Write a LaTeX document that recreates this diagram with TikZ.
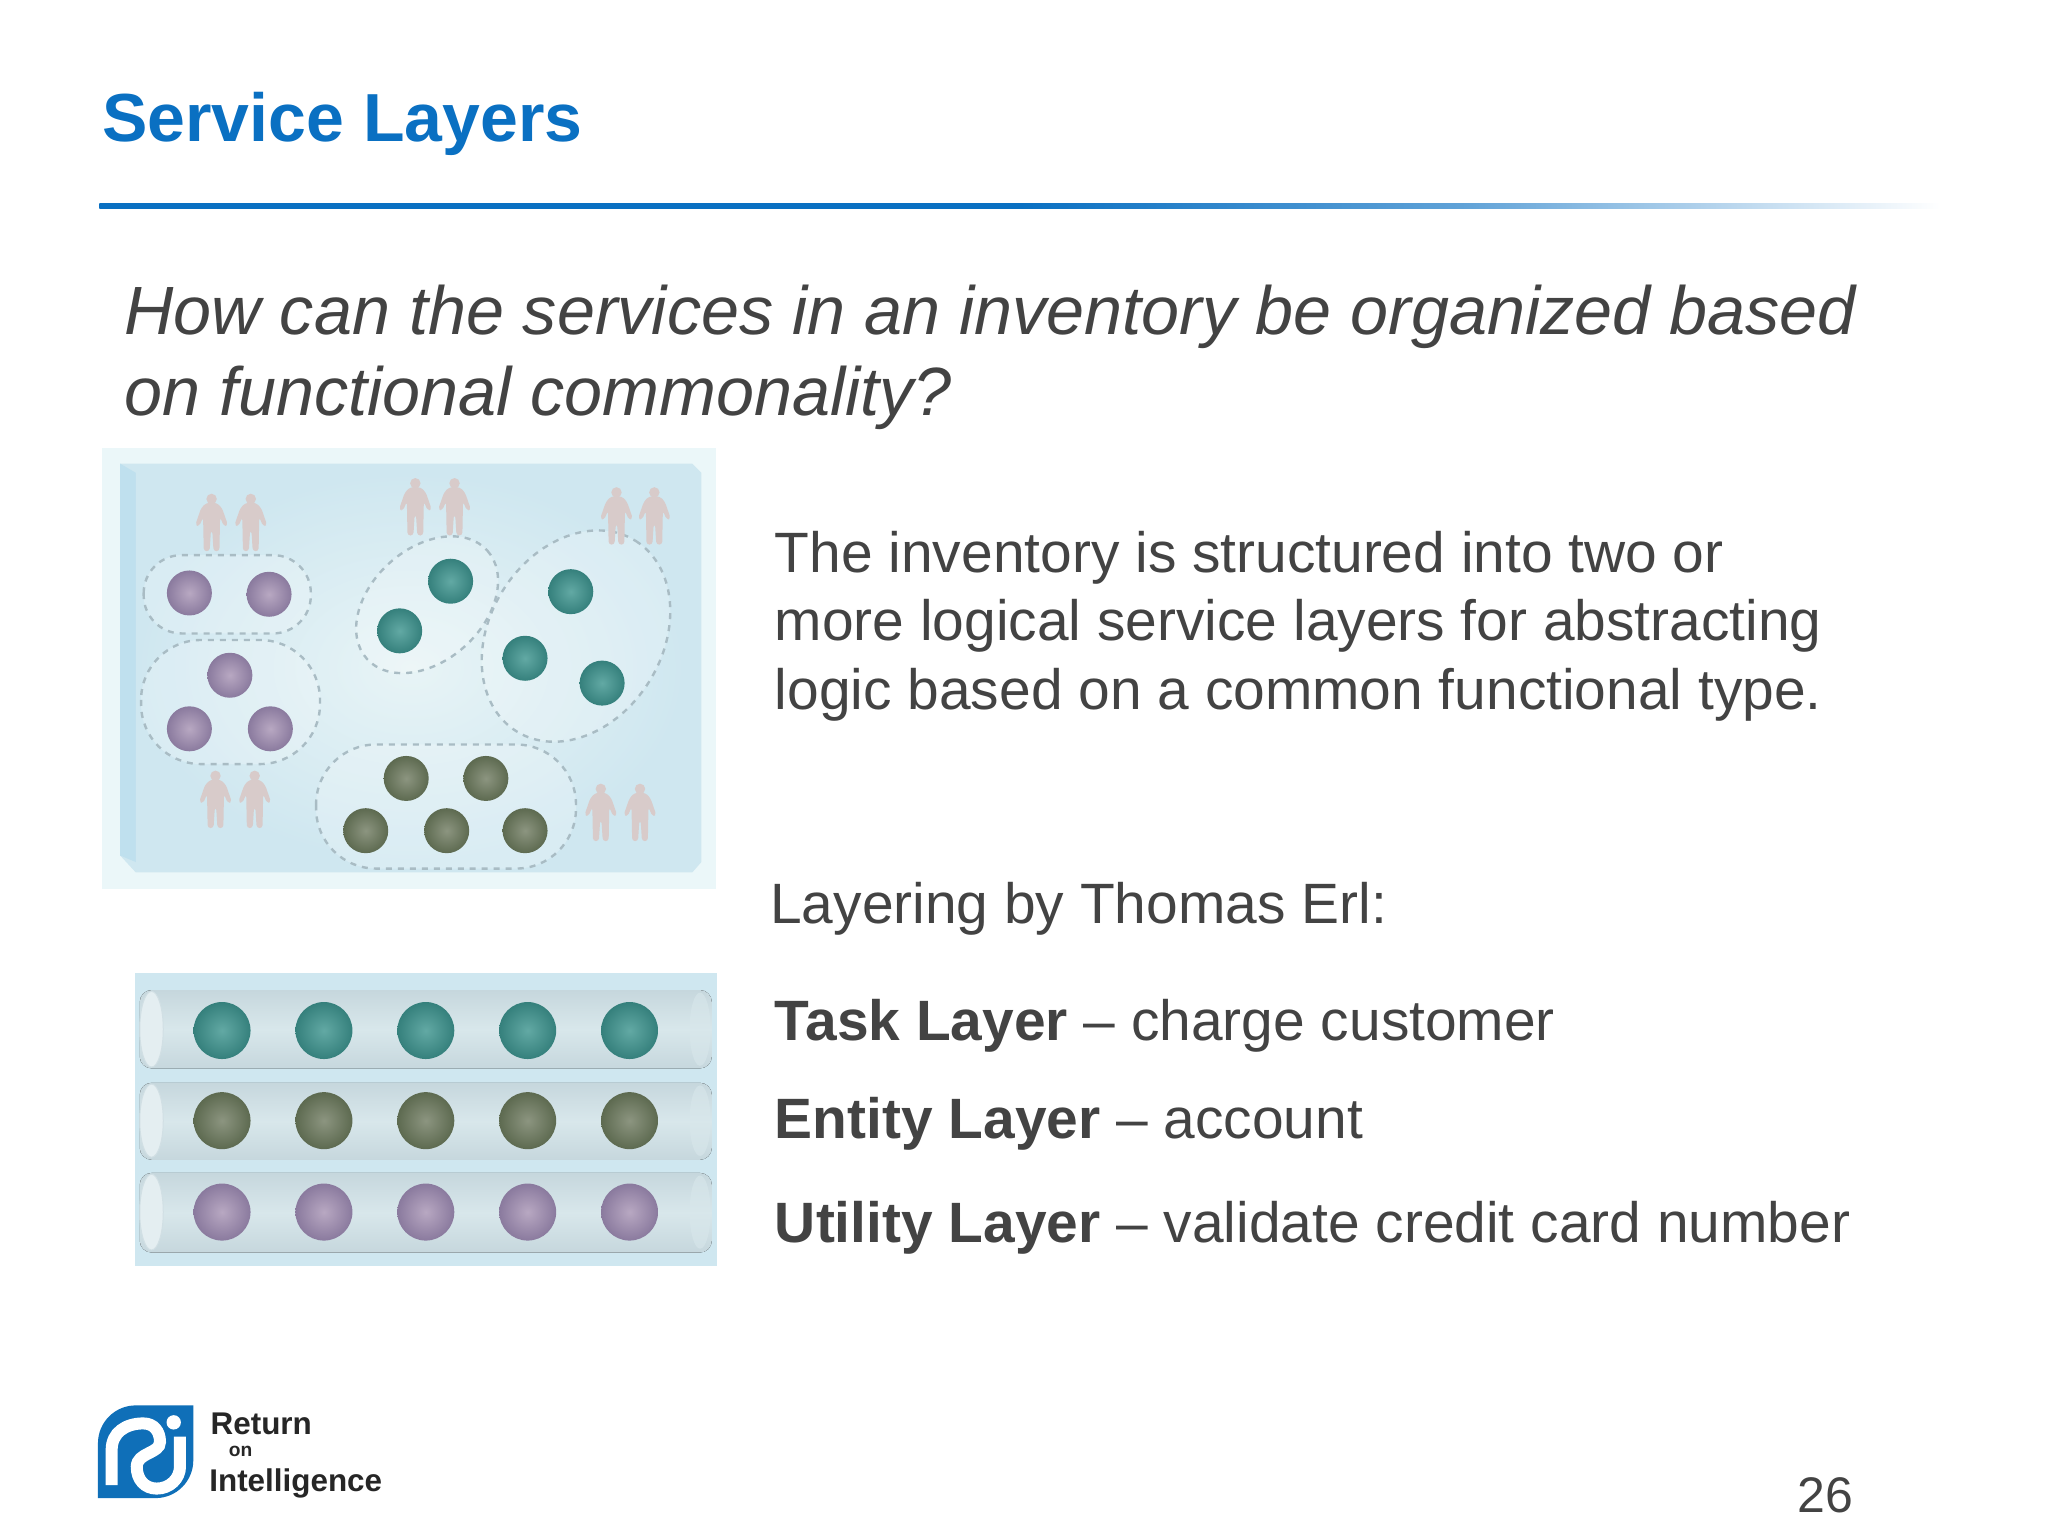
\documentclass[tikz,border=0pt]{standalone}
\usepackage{fontspec}
\setmainfont{Liberation Sans}
\usepackage{tikz}

\definecolor{titleblue}{HTML}{0A70C2}
\definecolor{bodygrey}{HTML}{434343}
\definecolor{logoblue}{HTML}{0F6FB8}
\definecolor{panelpale}{HTML}{EBF7F9}
\definecolor{panelblue}{HTML}{CFE7F0}
\definecolor{panelstrip}{HTML}{BFE0EE}
\definecolor{panelmid}{HTML}{E8F4F6}
\definecolor{dashgrey}{HTML}{A9BCC4}
\definecolor{tubegrey}{HTML}{C6D7DD}
\definecolor{tubelight}{HTML}{D8E7EB}
\definecolor{personpink}{HTML}{D8CBCA}
\definecolor{tealdark}{HTML}{35807C}
\definecolor{teallight}{HTML}{62A9A4}
\definecolor{olivedark}{HTML}{5D6A50}
\definecolor{olivelight}{HTML}{8C9580}
\definecolor{purpledark}{HTML}{8A7A9E}
\definecolor{purplelight}{HTML}{B8A8C2}

\pgfdeclarehorizontalshading{rulefade}{100bp}{color(0bp)=(titleblue); color(25bp)=(titleblue); color(50bp)=(titleblue); color(62bp)=(titleblue!65!white); color(75bp)=(white); color(100bp)=(white)}

\tikzset{
	ball/.style={circle, inner sep=0pt, minimum size=22.5pt, shading=radial},
	bigball/.style={ball, minimum size=28.5pt},
	tealball/.style={inner color=teallight, outer color=tealdark},
	oliveball/.style={inner color=olivelight, outer color=olivedark},
	purpleball/.style={inner color=purplelight, outer color=purpledark},
	blob/.style={draw=dashgrey, line width=1.2pt, dash pattern=on 3pt off 3pt, fill=white, fill opacity=0.22},
	tube/.style={rounded corners=6pt, top color=tubegrey, bottom color=tubegrey, middle color=tubelight},
	tubeend/.style={fill=tubelight!70!white, draw=tubegrey!80!white, line width=0.5pt},
	tubecap/.style={fill=tubelight, opacity=0.6},
	label/.style={anchor=base west, inner sep=0pt, text=bodygrey, font=\fontsize{28.45}{34}\selectfont},
	logotext/.style={anchor=base west, inner sep=0pt, text=black!85, font=\fontsize{15.7}{18}\selectfont\bfseries},
	person/.pic={
		\fill[personpink] (0,-18) circle (4);
		\fill[personpink, rounded corners=1.5pt] (-4,-15) -- (4,-15) -- (8,-11) -- (12.5,2) -- (9.5,3) -- (6.5,-4) -- (6,22) -- (1.5,22) -- (0.5,6) -- (-0.5,6) -- (-1.5,22) -- (-6,22) -- (-6.5,-4) -- (-9.5,3) -- (-12.5,2) -- (-8,-11) -- cycle;
	}
}

\begin{document}
\begin{tikzpicture}[x=0.6531pt,y=-0.6531pt]
	\useasboundingbox[fill=white] (0,0) rectangle (1568,1176);

	% heading
	\node[anchor=base west, inner sep=0pt, text=titleblue, font=\fontsize{34}{40}\selectfont\bfseries] (title) at (78,108) {Service Layers};
	\shade[shading=rulefade] (76,155.5) rectangle (1485,159.5);
	\node[label, font=\fontsize{34.15}{40}\selectfont\itshape] (question1) at (95,256) {How can the services in an inventory be organized based};
	\node[label, font=\fontsize{34.15}{40}\selectfont\itshape] (question2) at (95,318) {on functional commonality?};

	% inventory panel
	\fill[panelpale] (78,343) rectangle (548,681);
	\fill[panelblue] (92,355) -- (530,355) -- (537,362) -- (537,660) -- (530,668) -- (104,668) -- (92,655) -- cycle;
	\fill[panelstrip] (92,355) -- (104,362) -- (104,660) -- (92,655) -- cycle;
	\shade[inner color=panelmid, outer color=panelblue] (104,362) rectangle (525,660);

	\draw[blob, rounded corners=19pt] (110,425) rectangle (238,485);
	\draw[blob, rounded corners=30pt] (108,490) rectangle (245,585);
	\draw[blob, rotate around={42:(327,463)}] (327,463) ellipse (62 and 43);
	\draw[blob, rotate around={58:(441,487)}] (441,487) ellipse (86 and 66);
	\draw[blob, rounded corners=30pt] (242,570) rectangle (441,665);

	\pic at (162,400) {person};
	\pic at (192,400) {person};
	\pic at (318,388) {person};
	\pic at (348,388) {person};
	\pic at (472,395) {person};
	\pic at (501,395) {person};
	\pic at (165,612) {person};
	\pic at (195,612) {person};
	\pic at (460,622) {person};
	\pic at (490,622) {person};

	\node[ball, purpleball] (p1) at (145,454) {};
	\node[ball, purpleball] (p2) at (206,455) {};
	\node[ball, purpleball] (p3) at (176,517) {};
	\node[ball, purpleball] (p4) at (145,558) {};
	\node[ball, purpleball] (p5) at (207,558) {};
	\node[ball, tealball] (t1) at (345,445) {};
	\node[ball, tealball] (t2) at (306,483) {};
	\node[ball, tealball] (t3) at (437,453) {};
	\node[ball, tealball] (t4) at (402,504) {};
	\node[ball, tealball] (t5) at (461,523) {};
	\node[ball, oliveball] (o1) at (311,596) {};
	\node[ball, oliveball] (o2) at (372,596) {};
	\node[ball, oliveball] (o3) at (280,636) {};
	\node[ball, oliveball] (o4) at (342,636) {};
	\node[ball, oliveball] (o5) at (402,636) {};

	% layers panel
	\fill[panelblue] (103,745) rectangle (549,969);
	\fill[tube] (107,758) rectangle (545,818);
	\fill[tube] (107,829) rectangle (545,888);
	\fill[tube] (107,898) rectangle (545,959);
	\draw[tubeend] (116,788) ellipse (9 and 29);
	\draw[tubeend] (116,858) ellipse (9 and 28);
	\draw[tubeend] (116,928) ellipse (9 and 29);
	\fill[tubecap] (536,788) ellipse (8 and 28);
	\fill[tubecap] (536,858) ellipse (8 and 27);
	\fill[tubecap] (536,928) ellipse (8 and 28);

	\node[bigball, tealball] (task1) at (170,789) {};
	\node[bigball, tealball] (task2) at (248,789) {};
	\node[bigball, tealball] (task3) at (326,789) {};
	\node[bigball, tealball] (task4) at (404,789) {};
	\node[bigball, tealball] (task5) at (482,789) {};
	\node[bigball, oliveball] (entity1) at (170,858) {};
	\node[bigball, oliveball] (entity2) at (248,858) {};
	\node[bigball, oliveball] (entity3) at (326,858) {};
	\node[bigball, oliveball] (entity4) at (404,858) {};
	\node[bigball, oliveball] (entity5) at (482,858) {};
	\node[bigball, purpleball] (utility1) at (170,928) {};
	\node[bigball, purpleball] (utility2) at (248,928) {};
	\node[bigball, purpleball] (utility3) at (326,928) {};
	\node[bigball, purpleball] (utility4) at (404,928) {};
	\node[bigball, purpleball] (utility5) at (482,928) {};

	% text
	\node[label] (body1) at (593,438.5) {The inventory is structured into two or};
	\node[label] (body2) at (593,490.5) {more logical service layers for abstracting};
	\node[label] (body3) at (593,543.5) {logic based on a common functional type.};
	\node[label] (erl) at (589.5,707) {Layering by Thomas Erl:};
	\node[label] (task) at (593,796.5) {\textbf{Task Layer} – charge customer};
	\node[label] (entity) at (593,871.5) {\textbf{Entity Layer} – account};
	\node[label] (utility) at (593,951.5) {\textbf{Utility Layer} – validate credit card number};

	% logo
	\fill[logoblue] (75,1147) -- (75,1105) to[out=90,in=180] (104,1076) -- (148,1076) -- (148,1118) to[out=-90,in=0] (119,1147) -- cycle;
	\draw[white, line width=6pt] (85.5,1137) -- (85.5,1110) .. controls (85.5,1097) and (96,1089.8) .. (109.7,1089.8) .. controls (118,1089.8) and (122.5,1096) .. (122.5,1104) .. controls (122.5,1113) and (104.7,1112) .. (104.7,1123) .. controls (104.7,1133) and (111,1139.7) .. (120,1139.7) .. controls (130,1139.7) and (137.8,1132) .. (137.8,1123) -- (137.8,1100);
	\fill[white] (133,1089) circle (5.5);
	\node[logotext] (return) at (161,1098) {Return};
	\node[logotext, font=\fontsize{9.6}{12}\selectfont\bfseries] (on) at (175,1115) {on};
	\node[logotext] (intelligence) at (160,1142) {Intelligence};

	\node[label, font=\fontsize{25}{30}\selectfont] (page) at (1376,1158) {26};
\end{tikzpicture}
\end{document}
